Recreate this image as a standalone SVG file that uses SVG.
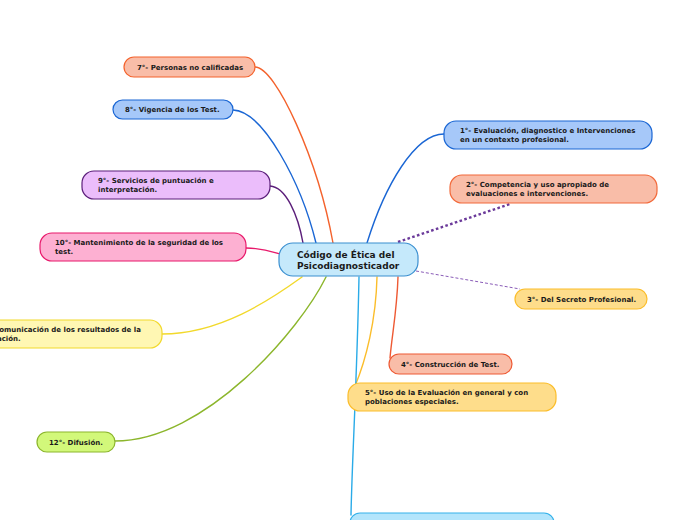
<svg xmlns="http://www.w3.org/2000/svg" width="697" height="520" viewBox="0 0 697 520">
<style>
text{font-family:"DejaVu Sans","Verdana",sans-serif;font-weight:bold;font-size:7px;fill:#1a1a1a}
.c text{font-size:9px}
.n rect{stroke-width:1.2}
.l{fill:none;stroke-width:1.4;stroke-linecap:round}
</style>
<rect width="697" height="520" fill="#ffffff"/>
<g id="connectors">
<path class="l" stroke="#f4622c" d="M255,67 C276,67 318,160 333,243"/>
<path class="l" stroke="#1a66d4" d="M233,110 C263,111 301,182 316,243"/>
<path class="l" stroke="#5b1e7a" d="M270,186 C286,187 298,215 303,243"/>
<path class="l" stroke="#e8196b" d="M246,248 C262,248 270,251 280,254"/>
<path class="l" stroke="#f2d92c" d="M302,277 C270,300 220,334 162,334"/>
<path class="l" stroke="#8cb62c" d="M326,277 C300,330 205,441 115,441"/>
<path class="l" stroke="#1a66d4" d="M367,243 C385,185 415,134 444,134"/>
<path fill="none" stroke="#6b3a9a" stroke-width="2.4" stroke-dasharray="2.6,2.4" d="M398,242 L510,204"/>
<path fill="none" stroke="#8a5cb8" stroke-width="1" stroke-dasharray="3,2" d="M416,271 L520,289"/>
<path class="l" stroke="#ee5a34" d="M398,277 C397,310 392,335 390,358"/>
<path class="l" stroke="#fbbd2a" d="M377,277 C376,320 366,360 355,386"/>
<path class="l" stroke="#2aabe8" d="M359,277 C357,380 352,460 351,515"/>
</g>
<g id="node7" class="n"><rect x="124" y="57" width="131" height="20" rx="10" fill="#f9bda8" stroke="#f4622c"/><text x="137" y="69.5">7°- Personas no calificadas</text></g>
<g id="node8" class="n"><rect x="113" y="100" width="120" height="19" rx="9.5" fill="#a6c8f9" stroke="#1a66d4"/><text x="125" y="112">8°- Vigencia de los Test.</text></g>
<g id="node9" class="n"><rect x="82" y="171" width="188" height="28" rx="12" fill="#ebbdfb" stroke="#5b1e7a"/><text x="98" y="183">9°- Servicios de puntuación e</text><text x="98" y="192">interpretación.</text></g>
<g id="node10" class="n"><rect x="40" y="233" width="206" height="28" rx="12" fill="#fdb0d2" stroke="#e8196b"/><text x="55" y="245">10°- Mantenimiento de la seguridad de los</text><text x="55" y="254">test.</text></g>
<g id="node11" class="n"><rect x="-40" y="320" width="202" height="28" rx="12" fill="#fff7b3" stroke="#f2d92c"/><text x="-24.5" y="332">11°- Comunicación de los resultados de la</text><text x="-24.5" y="341">evaluación.</text></g>
<g id="node12" class="n"><rect x="37" y="432" width="78" height="20" rx="10" fill="#d2f87a" stroke="#8cb62c"/><text x="49" y="444.5">12°- Difusión.</text></g>
<g id="node1" class="n"><rect x="444" y="121" width="208" height="28" rx="12" fill="#a6c8f9" stroke="#1a66d4"/><text x="460" y="133">1°- Evaluación, diagnostico e Intervenciones</text><text x="460" y="142">en un contexto profesional.</text></g>
<g id="node2" class="n"><rect x="450" y="175" width="207" height="28" rx="12" fill="#f9bda8" stroke="#f2693a"/><text x="466" y="187">2°- Competencia y uso apropiado de</text><text x="466" y="196">evaluaciones e intervenciones.</text></g>
<g id="node3" class="n"><rect x="515" y="289" width="132" height="20" rx="10" fill="#fedd8b" stroke="#fbbd2a"/><text x="527" y="301.5">3°- Del Secreto Profesional.</text></g>
<g id="node4" class="n"><rect x="389" y="354" width="123" height="20" rx="10" fill="#f9bda8" stroke="#ee5a34"/><text x="401" y="366.5">4°- Construcción de Test.</text></g>
<g id="node5" class="n"><rect x="348" y="383" width="208" height="28" rx="12" fill="#fedd8b" stroke="#fbbd2a"/><text x="365" y="395">5°- Uso de la Evaluación en general y con</text><text x="365" y="404">poblaciones especiales.</text></g>
<g id="node6" class="n"><rect x="350" y="513" width="204" height="30" rx="10" fill="#b3e5fc" stroke="#36b2ea"/></g>
<g id="center" class="n c"><rect x="279" y="243" width="139" height="33" rx="14" fill="#c5e9fb" stroke="#3a8fd0"/><text x="297" y="257.5">Código de Ética del</text><text x="297" y="268.5">Psicodiagnosticador</text></g>
</svg>
